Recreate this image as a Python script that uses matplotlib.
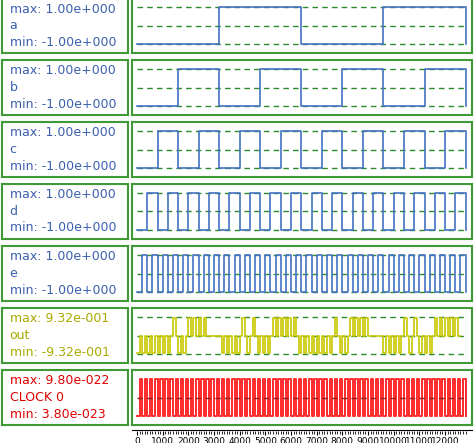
import numpy as np
import matplotlib.pyplot as plt

W, H = 474, 443
names = ["a", "b", "c", "d", "e", "out", "CLOCK 0"]
maxs = ["1.00e+000"] * 5 + ["9.32e-001", "9.80e-022"]
mins = ["-1.00e+000"] * 5 + ["-9.32e-001", "3.80e-023"]
txt_colors = ["#3b5fae"] * 5 + ["#a9a900", "#e00000"]
line_colors = ["#4472c4"] * 5 + ["#c8c800", "#ff2a2a"]

# half periods of the square waves (starting low)
half_periods = [3200, 1600, 800, 400, 200]
clock_half = 100
t_end = 12800

# out signal, one level per 100 units (-1 low, 0 mid, 1 high)
out_levels = ("-0-0-0-0-0-0-0+0-0-0+0+0+0+000000-0-0-0-0+0-0+0-0-0-0+0+0+0+0+0"
              "-0-0-0-0-0-0-0+0-0-0+0+0+0+000000-0-0-0-0+0-0+0-0-0-0+0+0+0+0+0")

border = "#3f9a35"
dash = "#2d8a2d"

fig = plt.figure(figsize=(W / 100, H / 100), dpi=100)

def px_axes(x, y, w, h):
    return fig.add_axes([x / W, 1 - (y + h) / H, w / W, h / H])

xlim = (-195, 13050)

def square(half):
    edges = np.arange(0, t_end + half, half)
    lv = np.array([(-1) ** (k + 1) for k in range(len(edges))])
    return edges, lv

for i in range(7):
    top = 62 * i - 2
    lab = px_axes(2, top, 126, 55)
    ax = px_axes(132, top, 340, 55)
    for a in (lab, ax):
        a.set_xticks([]); a.set_yticks([])
        for s in a.spines.values():
            s.set_color(border); s.set_linewidth(1.5)
    for yy, t in ((0.8, "max: " + maxs[i]), (0.5, names[i]), (0.2, "min: " + mins[i])):
        lab.text(0.06, yy, t, color=txt_colors[i], fontsize=9,
                 transform=lab.transAxes, va="center")

    ax.set_xlim(*xlim)
    ax.set_ylim(-1.45, 1.45)
    if i < 6:
        for yv in (-1, 0, 1):
            ax.plot([0, t_end], [yv, yv], color=dash, ls=(0, (4, 3)), lw=1)
    if i < 5:
        e, lv = square(half_periods[i])
        ax.step(e, lv, where="post", color=line_colors[i], lw=1.2)
    elif i == 5:
        m = {"-": -1, "0": 0, "+": 1}
        lv = np.array([m[c] for c in out_levels] + [0]) * 0.93
        e = np.arange(len(lv)) * 100
        ax.step(e, lv, where="post", color=line_colors[i], lw=1.2)
    else:
        e, lv = square(clock_half)
        ax.step(e, lv, where="post", color=line_colors[i], lw=1.4)
        ax.plot([0, t_end], [0, 0], color="#8a2020", ls=(0, (4, 3)), lw=1)

bx = px_axes(132, 430, 340, 1)
bx.set_xlim(*xlim)
bx.set_yticks([])
for s in ("left", "right", "bottom"):
    bx.spines[s].set_visible(False)
bx.spines["top"].set_linewidth(0.8)
bx.set_xticks(np.arange(0, 12001, 1000))
bx.set_xticks(np.arange(0, 12801, 100), minor=True)
bx.tick_params(axis="x", which="major", direction="out", length=3, labelsize=6.5,
               pad=1, top=False, bottom=True)
bx.tick_params(axis="x", which="minor", direction="out", length=2, top=False, bottom=True)
fig.savefig("out.png", dpi=100)
